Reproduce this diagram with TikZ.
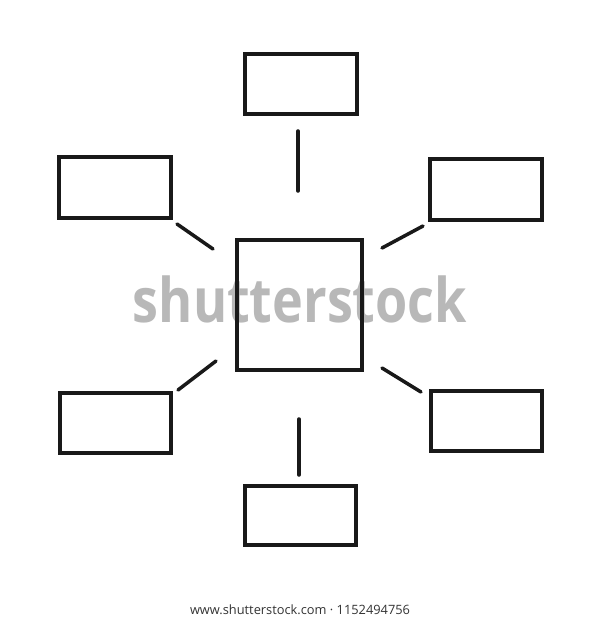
\documentclass[tikz,border=0pt]{standalone}
\usepackage{fontspec}
\setmainfont{Open Sans}
\begin{document}
\begin{tikzpicture}[x=0.05cm,y=-0.05cm,
  box/.style={draw=black!90, line width=5pt, inner sep=0pt, rectangle},
  link/.style={draw=black!90, line width=5pt, line cap=round},
  wm/.style={inner sep=0pt, text=black!28, font=\bfseries},
  foot/.style={inner sep=0pt, text=black!80}]
\useasboundingbox (0,0) rectangle (600,620);
\fill[white] (0,0) rectangle (600,620);
% watermark
\node[wm, anchor=base] (wmk) at (300,322) {\scalebox{1}[1.18]{\resizebox{16.7cm}{!}{shutterstock}}};
\node[foot, anchor=base] (ft) at (300,614) {\resizebox{11cm}{!}{www.shutterstock.com · 1152494756}};
% boxes
\node[box, minimum width=6.25cm, minimum height=6.5cm] (c) at (299.5,305) {};
\node[box, minimum width=5.6cm, minimum height=3.0cm] (t) at (301,84) {};
\node[box, minimum width=5.6cm, minimum height=3.05cm] (ul) at (115,187.5) {};
\node[box, minimum width=5.6cm, minimum height=3.05cm] (ur) at (486,189.5) {};
\node[box, minimum width=5.55cm, minimum height=3.0cm] (ll) at (115.5,423) {};
\node[box, minimum width=5.55cm, minimum height=3.0cm] (lr) at (486.5,421) {};
\node[box, minimum width=5.55cm, minimum height=2.95cm] (b) at (300.5,515.5) {};
% connector ends
\coordinate (t1) at (298,131); \coordinate (t2) at (298,191);
\coordinate (ul1) at (177,224); \coordinate (ul2) at (213,249);
\coordinate (ur1) at (382,248); \coordinate (ur2) at (423,226);
\coordinate (ll1) at (178,390); \coordinate (ll2) at (216,361);
\coordinate (lr1) at (382,368); \coordinate (lr2) at (421,392);
\coordinate (b1) at (299,419); \coordinate (b2) at (299,475);
\draw[link] (t1) -- (t2);
\draw[link] (ul1) -- (ul2);
\draw[link] (ur1) -- (ur2);
\draw[link] (ll1) -- (ll2);
\draw[link] (lr1) -- (lr2);
\draw[link] (b1) -- (b2);
\end{tikzpicture}
\end{document}
